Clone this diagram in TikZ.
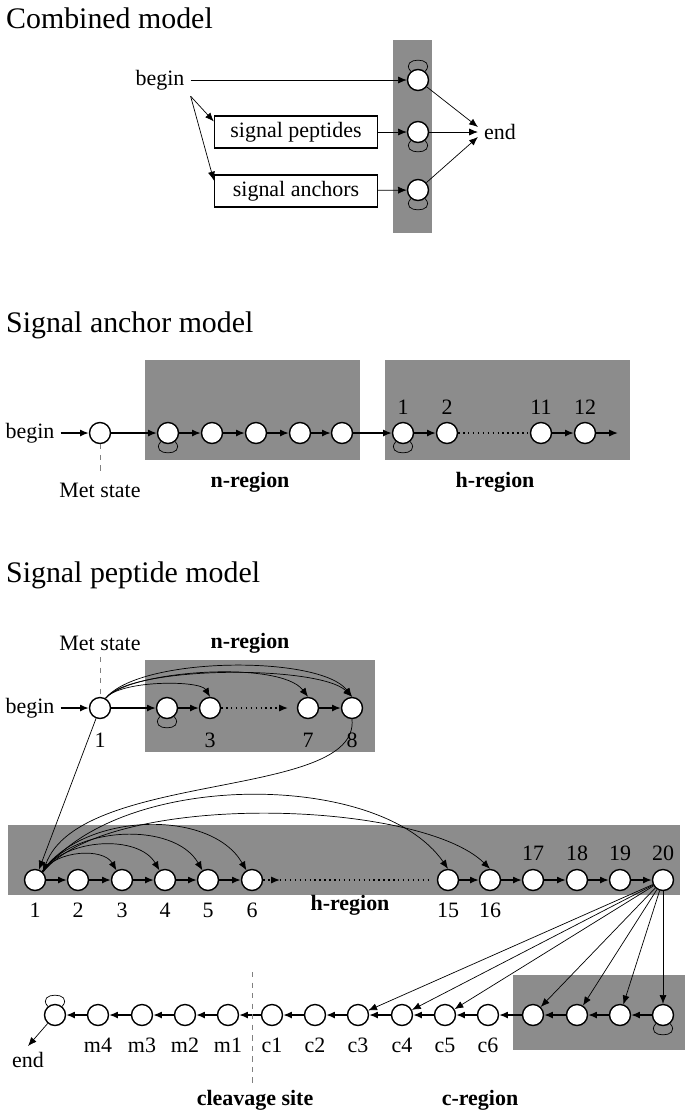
\documentclass[tikz,border=0pt]{standalone}
\usepackage{fontspec}
\setmainfont{Liberation Serif}
\usetikzlibrary{arrows.meta}
\begin{document}
\begin{tikzpicture}[x=0.02cm,y=-0.02cm,
  st/.style={circle,draw,thick,fill=white,minimum size=0.42cm,inner sep=0pt},
  lb/.style={font=\fontsize{12.5}{14}\selectfont},
  bl/.style={font=\fontsize{12.5}{14}\selectfont\bfseries},
  hd/.style={font=\fontsize{17}{20}\selectfont,anchor=west},
  shade/.style={fill=black!45},
  ar/.style={-{Latex[length=5pt,width=4pt]},thick},
  al/.style={-{Latex[length=5pt,width=4pt]}},
  lpu/.style={thick,out=130,in=50,looseness=3.5},
  lpd/.style={thick,out=-130,in=-50,looseness=3.5},
  box/.style={draw,thick,fill=white,minimum width=3.26cm,minimum height=0.6cm,font=\fontsize{12.5}{14}\selectfont}]
\useasboundingbox (0,0) rectangle (685,1117);
% ---------- combined model
\node[hd] (h1) at (0,18) {Combined model};
\fill[shade] (393,40) rectangle (432,233);
\node[st] (ca) at (418,80) {};
\node[st] (cb) at (418,132) {};
\node[st] (cc) at (418,190) {};
\draw (ca.130) to[lpu] (ca.50);
\draw (cb.-130) to[lpd] (cb.-50);
\draw (cc.-130) to[lpd] (cc.-50);
\node[lb] (cbeg) at (160,80) {begin};
\node[box] (sp) at (296,132) {signal peptides};
\node[box] (sa) at (296,191) {signal anchors};
\node[lb] (cend) at (500,132) {end};
\draw[al] (cbeg) -- (ca);
\draw[al] (cbeg.south east) -- ([yshift=-0.12cm]sp.north west);
\draw[al] (cbeg.south east) -- ([yshift=-0.12cm]sa.north west);
\draw[al] (sp) -- (cb);
\draw[al] (sa) -- (cc);
\draw[al] (ca) -- ([yshift=0.1cm]cend.west);
\draw[al] (cb) -- (cend.west);
\draw[al] (cc) -- ([yshift=-0.1cm]cend.west);
% ---------- signal anchor model
\node[hd] (h2) at (0,325) {Signal anchor model};
\fill[shade] (145,360) rectangle (360,460);
\fill[shade] (385,360) rectangle (630,460);
\node[lb] (abeg) at (30,433) {begin};
\node[st] (a0) at (100,433) {};
\draw[ar] (abeg) -- (a0);
\draw[dashed,gray] (a0.south) -- (100,474);
\node[lb] (amet) at (100,490) {Met state};
\foreach \i/\x in {1/168,2/212,3/256,4/300,5/342}{\node[st] (an\i) at (\x,433) {};}
\draw (an1.-130) to[lpd] (an1.-50);
\draw[ar] (a0) -- (an1);
\foreach \i/\j in {1/2,2/3,3/4,4/5}{\draw[ar] (an\i) -- (an\j);}
\node[bl] (anr) at (250,482) {n-region};
\foreach \i/\x/\t in {1/403/1,2/447/2,3/541/11,4/585/12}{\node[st] (ah\i) at (\x,433) {}; \node[lb] (ahl\i) at (\x,407) {\t};}
\draw (ah1.-130) to[lpd] (ah1.-50);
\draw[ar] (an5) -- (ah1);
\draw[ar] (ah1) -- (ah2);
\draw[thick,dotted] (ah2) -- (ah3);
\draw[ar] (ah3) -- (ah4);
\coordinate (aout) at (618,433);
\draw[ar] (ah4) -- (aout);
\node[bl] (ahr) at (495,482) {h-region};
% ---------- signal peptide model
\node[hd] (h3) at (0,575) {Signal peptide model};
\fill[shade] (145,660) rectangle (375,752);
\node[lb] (pmet) at (100,643) {Met state};
\node[bl] (pnr) at (250,643) {n-region};
\node[lb] (pbeg) at (30,708) {begin};
\node[st] (p1) at (100,708) {};
\draw[dashed,gray] (100,657) -- (p1.north);
\draw[ar] (pbeg) -- (p1);
\node[lb] (pl1) at (100,740) {1};
\node[st] (p2) at (167,708) {};
\node[st] (p3) at (210,708) {};
\node[st] (p7) at (308,708) {};
\node[st] (p8) at (352,708) {};
\draw (p2.-130) to[lpd] (p2.-50);
\foreach \n/\x in {3/210,7/308,8/352}{\node[lb] (pl\n) at (\x,740) {\n};}
\draw[ar] (p1) -- (p2);
\draw[ar] (p2) -- (p3);
\draw[thick,dotted,-{Latex[length=5pt,width=4pt]}] (p3) -- (288,708);
\draw[ar] (p7) -- (p8);
\draw[al] (p1.60) .. controls (120,680) and (200,680) .. (p3.north);
\draw[al] (p1.60) .. controls (130,670) and (280,660) .. (p7.north);
\draw[al] (p1.60) .. controls (130,665) and (320,665) .. (p8.north);
\draw[al] (p1.60) .. controls (140,656) and (320,655) .. (p8.north);
% h-region
\fill[shade] (8,825) rectangle (680,895);
\foreach \i/\x in {1/35,2/78,3/122,4/165,5/208,6/252,15/448,16/490,17/533,18/577,19/620,20/663}{\node[st] (q\i) at (\x,880) {};}
\foreach \i/\x in {1/35,2/78,3/122,4/165,5/208,6/252,15/448,16/490}{\node[lb] (ql\i) at (\x,910) {\i};}
\foreach \i/\x in {17/533,18/577,19/620,20/663}{\node[lb] (ql\i) at (\x,853) {\i};}
\foreach \i/\j in {1/2,2/3,3/4,4/5,5/6,15/16,16/17,17/18,18/19,19/20}{\draw[ar] (q\i) -- (q\j);}
\draw[thick,dotted,-{Latex[length=5pt,width=4pt]}] (q6) -- (280,880);
\draw[thick,dotted] (280,880) -- (432,880);
\node[bl] (qhr) at (350,905) {h-region};
\draw[al] (p1) -- (q1);
\draw[al] (p8.south) .. controls (360,800) and (80,770) .. (q1.north east);
\foreach \j in {3,4,5,6}{\draw[al] (q1.50) to[out=55,in=120,looseness=0.9] (q\j.120);}
\draw[al] (q1.north east) .. controls (120,770) and (380,770) .. (q15.north);
\draw[al] (q1.north east) .. controls (110,790) and (420,800) .. (q16.north);
% bottom row
\fill[shade] (513,975) rectangle (685,1050);
\node[st] (r0) at (55,1015) {};
\draw (r0.130) to[lpu] (r0.50);
\foreach \i/\x/\t in {1/98/m4,2/142/m3,3/185/m2,4/228/m1,5/272/c1,6/315/c2,7/358/c3,8/402/c4,9/445/c5,10/488/c6}{\node[st] (r\i) at (\x,1015) {}; \node[lb] (rl\i) at (\x,1045) {\t};}
\foreach \i/\x in {11/533,12/577,13/620,14/663}{\node[st] (r\i) at (\x,1015) {};}
\draw (r14.-130) to[lpd] (r14.-50);
\foreach \i/\j in {1/0,2/1,3/2,4/3,5/4,6/5,7/6,8/7,9/8,10/9,11/10,12/11,13/12,14/13}{\draw[ar] (r\i) -- (r\j);}
\node[lb] (rend) at (28,1060) {end};
\draw[al] (r0) -- (rend.north);
\draw[dashed,gray] (252,972) -- (252,1087);
\node[bl] (rcs) at (255,1100) {cleavage site};
\node[bl] (rcr) at (480,1100) {c-region};
\foreach \j in {7,8,9,11,12,13,14}{\draw[al] (q20) -- (r\j);}
\end{tikzpicture}
\end{document}
